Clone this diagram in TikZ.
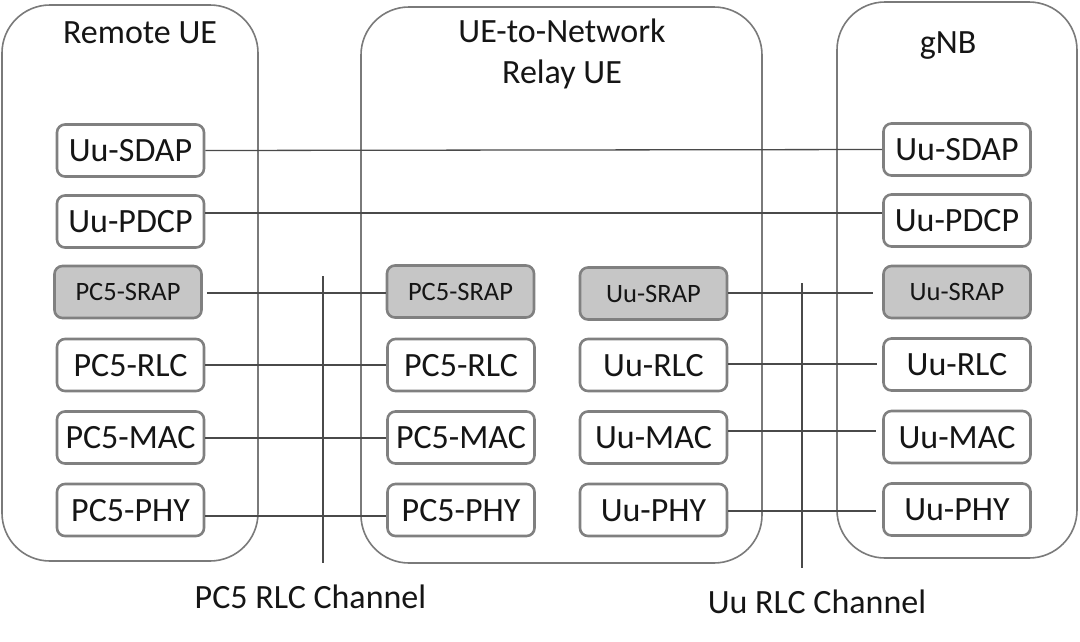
\documentclass[tikz,border=0pt]{standalone}
\usepackage{fontspec}
\setmainfont{Carlito}
\definecolor{boxgray}{HTML}{808080}
\definecolor{contgray}{HTML}{7A7A7A}
\definecolor{linkgray}{HTML}{4A4A4A}
\definecolor{srapfill}{HTML}{C6C6C6}
\definecolor{txt}{HTML}{151515}
\begin{document}
\begin{tikzpicture}[x=1pt,y=-1pt,
  box/.style={draw=boxgray, line width=2.6pt, rounded corners=8pt, fill=white,
    minimum width=147pt, minimum height=52pt, inner sep=0pt,
    font=\fontsize{34}{40}\selectfont, text=txt, text height=22pt, text depth=0pt},
  sbox/.style={box, fill=srapfill, font=\fontsize{26.5}{32}\selectfont, text height=17pt},
  cont/.style={draw=contgray, line width=1.6pt, rounded corners=48pt},
  link/.style={draw=linkgray, line width=1.3pt},
  title/.style={font=\fontsize{34}{41}\selectfont, text=txt, inner sep=0pt},
]
\useasboundingbox (0,0) rectangle (1080,641);

% containers
\draw[cont] (2,5) rectangle (258,561);
\draw[cont] (361,7) rectangle (762,563);
\draw[cont] (837,2) rectangle (1077,558);

% titles
\node[title, text height=22pt, text depth=0pt] (rtitle) at (140,32.5) {Remote UE};
\node[title, align=center, anchor=base] (ntitle) at (562,83.5) {UE-to-Network\\Relay UE};
\node[title, text height=22pt, text depth=0pt] (gtitle) at (948,42.5) {gNB};

% Remote UE stack
\node[box]  (rsdap) at (130.5,150.5) {Uu-SDAP};
\node[box]  (rpdcp) at (130.5,221.5) {Uu-PDCP};
\node[sbox] (rsrap) at (128,292)     {PC5-SRAP};
\node[box]  (rrlc)  at (130.5,365)   {PC5-RLC};
\node[box]  (rmac)  at (130.5,437.5) {PC5-MAC};
\node[box]  (rphy)  at (130.5,510)   {PC5-PHY};

% Relay UE PC5 stack
\node[sbox] (psrap) at (460.5,291.5) {PC5-SRAP};
\node[box]  (prlc)  at (461,365)     {PC5-RLC};
\node[box]  (pmac)  at (461,437.5)   {PC5-MAC};
\node[box]  (pphy)  at (461,510)     {PC5-PHY};

% Relay UE Uu stack
\node[sbox] (usrap) at (653.5,293.5) {Uu-SRAP};
\node[box]  (urlc)  at (653.5,365)   {Uu-RLC};
\node[box]  (umac)  at (653.5,437.5) {Uu-MAC};
\node[box]  (uphy)  at (653.5,510)   {Uu-PHY};

% gNB stack
\node[box]  (gsdap) at (957,149.5) {Uu-SDAP};
\node[box]  (gpdcp) at (957,220.5) {Uu-PDCP};
\node[sbox] (gsrap) at (957,292)   {Uu-SRAP};
\node[box]  (grlc)  at (957,364.5) {Uu-RLC};
\node[box]  (gmac)  at (957,437)   {Uu-MAC};
\node[box]  (gphy)  at (957,509.5) {Uu-PHY};

% channel markers
\coordinate (pc5top) at (323,276);
\coordinate (pc5bot) at (323,563);
\coordinate (uutop)  at (802,283);
\coordinate (uubot)  at (802,568);
\draw[link] (pc5top) -- (pc5bot);
\draw[link] (uutop) -- (uubot);

% peer links
\draw[link] (rsdap.east) -- (gsdap.west);
\draw[link] ([yshift=8.5pt]rpdcp.east) -- ([yshift=7.5pt]gpdcp.west);
\draw[link, shorten <=4pt] ([yshift=-1pt]rsrap.east) -- ([yshift=-1.5pt]psrap.west);
\draw[link] (rrlc.east) -- (prlc.west);
\draw[link] ([yshift=-0.5pt]rmac.east) -- ([yshift=-0.5pt]pmac.west);
\draw[link] ([yshift=-6pt]rphy.east) -- ([yshift=-6pt]pphy.west);
\draw[link, shorten >=9pt] ([yshift=0.5pt]usrap.east) -- ([yshift=-1pt]gsrap.west);
\draw[link, shorten >=5pt] ([yshift=1pt]urlc.east) -- ([yshift=0.5pt]grlc.west);
\draw[link, shorten >=6pt] ([yshift=6.5pt]umac.east) -- ([yshift=6pt]gmac.west);
\draw[link, shorten >=6pt] ([yshift=-1pt]uphy.east) -- ([yshift=-1.5pt]gphy.west);

% channel labels
\node[title, text height=22pt, text depth=0pt] (pc5ch) at (310.5,597) {PC5 RLC Channel};
\node[title, text height=22pt, text depth=0pt] (uuch)  at (817,602)   {Uu RLC Channel};
\end{tikzpicture}
\end{document}
